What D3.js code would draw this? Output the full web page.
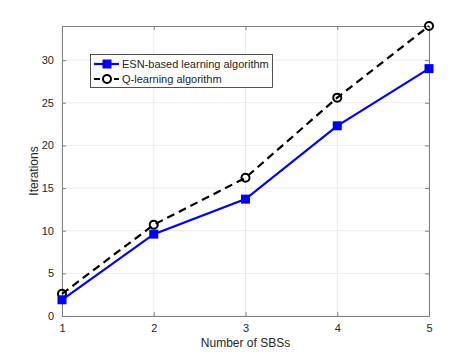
<!DOCTYPE html>
<html><head><meta charset="utf-8">
<script src="https://cdn.jsdelivr.net/npm/d3@7"></script>
<style>body{margin:0;background:#fff}svg{display:block}text{font-family:"Liberation Sans",Arial,Helvetica,sans-serif}</style>
</head><body>
<script>
const xValues = [1, 2, 3, 4, 5];
const esnValues = [1.9, 9.6, 13.7, 22.3, 29.0];
const qValues = [2.6, 10.7, 16.2, 25.6, 34.0];
const xTicks = [1, 2, 3, 4, 5];
const yTicks = [0, 5, 10, 15, 20, 25, 30];
const seriesNames = ["ESN-based learning algorithm", "Q-learning algorithm"];

const W = 474, H = 355;
const m = {left: 62, right: 45, top: 26, bottom: 39};
const svg = d3.select("body").append("svg").attr("width", W).attr("height", H);
const x = d3.scaleLinear().domain([1, 5]).range([m.left, W - m.right]);
const y = d3.scaleLinear().domain([0, 34]).range([H - m.bottom, m.top]);
const axisCol = "#808080", textCol = "#262626";

// grid
svg.append("g").selectAll("line").data(xTicks).join("line")
  .attr("x1", d => x(d)).attr("x2", d => x(d)).attr("y1", y(0)).attr("y2", y(34))
  .attr("stroke", "#e6e6e6").attr("stroke-width", 0.8);
svg.append("g").selectAll("line").data(yTicks).join("line")
  .attr("y1", d => y(d)).attr("y2", d => y(d)).attr("x1", x(1)).attr("x2", x(5))
  .attr("stroke", "#e6e6e6").attr("stroke-width", 0.8);

function styleAxis(g) {
  g.select(".domain").attr("stroke", axisCol);
  g.selectAll(".tick line").attr("stroke", axisCol);
  g.selectAll(".tick text").attr("fill", textCol).attr("font-size", 11);
}
svg.append("g").attr("transform", `translate(0,${y(0)})`)
  .call(d3.axisBottom(x).tickValues(xTicks).tickFormat(d3.format("d")).tickSizeInner(-4).tickSizeOuter(0).tickPadding(8))
  .call(styleAxis);
svg.append("g").attr("transform", `translate(0,${y(34)})`)
  .call(d3.axisTop(x).tickValues(xTicks).tickFormat("").tickSizeInner(-4).tickSizeOuter(0))
  .call(styleAxis);
svg.append("g").attr("transform", `translate(${x(1)},0)`)
  .call(d3.axisLeft(y).tickValues(yTicks).tickSizeInner(-4).tickSizeOuter(0).tickPadding(8))
  .call(styleAxis);
svg.append("g").attr("transform", `translate(${x(5)},0)`)
  .call(d3.axisRight(y).tickValues(yTicks).tickFormat("").tickSizeInner(-4).tickSizeOuter(0))
  .call(styleAxis);

// labels
svg.append("text").attr("x", x(3)).attr("y", 347).attr("text-anchor", "middle")
  .attr("font-size", 12).attr("fill", textCol).text("Number of SBSs");
svg.append("text").attr("transform", `translate(38,${y(17)}) rotate(-90)`).attr("text-anchor", "middle")
  .attr("font-size", 12).attr("fill", textCol).text("Iterations");

// lines
const line = d3.line().x((d, i) => x(xValues[i])).y(d => y(d));
svg.append("path").datum(qValues).attr("d", line).attr("fill", "none")
  .attr("stroke", "#000").attr("stroke-width", 2.2).attr("stroke-dasharray", "8,5");
svg.append("path").datum(esnValues).attr("d", line).attr("fill", "none")
  .attr("stroke", "#0000ff").attr("stroke-width", 2.2);
svg.append("g").selectAll("circle").data(qValues).join("circle")
  .attr("cx", (d, i) => x(xValues[i])).attr("cy", d => y(d)).attr("r", 4)
  .attr("fill", "none").attr("stroke", "#000").attr("stroke-width", 2);
svg.append("g").selectAll("rect").data(esnValues).join("rect")
  .attr("x", (d, i) => x(xValues[i]) - 4.5).attr("y", d => y(d) - 4.5)
  .attr("width", 9).attr("height", 9).attr("fill", "#0000ff");

// legend
const lg = svg.append("g");
lg.append("rect").attr("x", 90.5).attr("y", 54.5).attr("width", 182).attr("height", 33)
  .attr("fill", "#fff").attr("stroke", "#262626").attr("stroke-width", 0.8);
lg.append("line").attr("x1", 94).attr("x2", 119).attr("y1", 64).attr("y2", 64)
  .attr("stroke", "#0000ff").attr("stroke-width", 2.2);
lg.append("rect").attr("x", 102.5).attr("y", 59.5).attr("width", 9).attr("height", 9).attr("fill", "#0000ff");
lg.append("line").attr("x1", 94).attr("x2", 119).attr("y1", 79).attr("y2", 79)
  .attr("stroke", "#000").attr("stroke-width", 2.2).attr("stroke-dasharray", "6,4");
lg.append("circle").attr("cx", 107).attr("cy", 79).attr("r", 4).attr("fill", "#fff")
  .attr("stroke", "#000").attr("stroke-width", 2);
lg.append("text").attr("x", 122).attr("y", 68).attr("font-size", 11).attr("fill", textCol).text(seriesNames[0]);
lg.append("text").attr("x", 122).attr("y", 83).attr("font-size", 11).attr("fill", textCol).text(seriesNames[1]);
</script>
</body></html>
